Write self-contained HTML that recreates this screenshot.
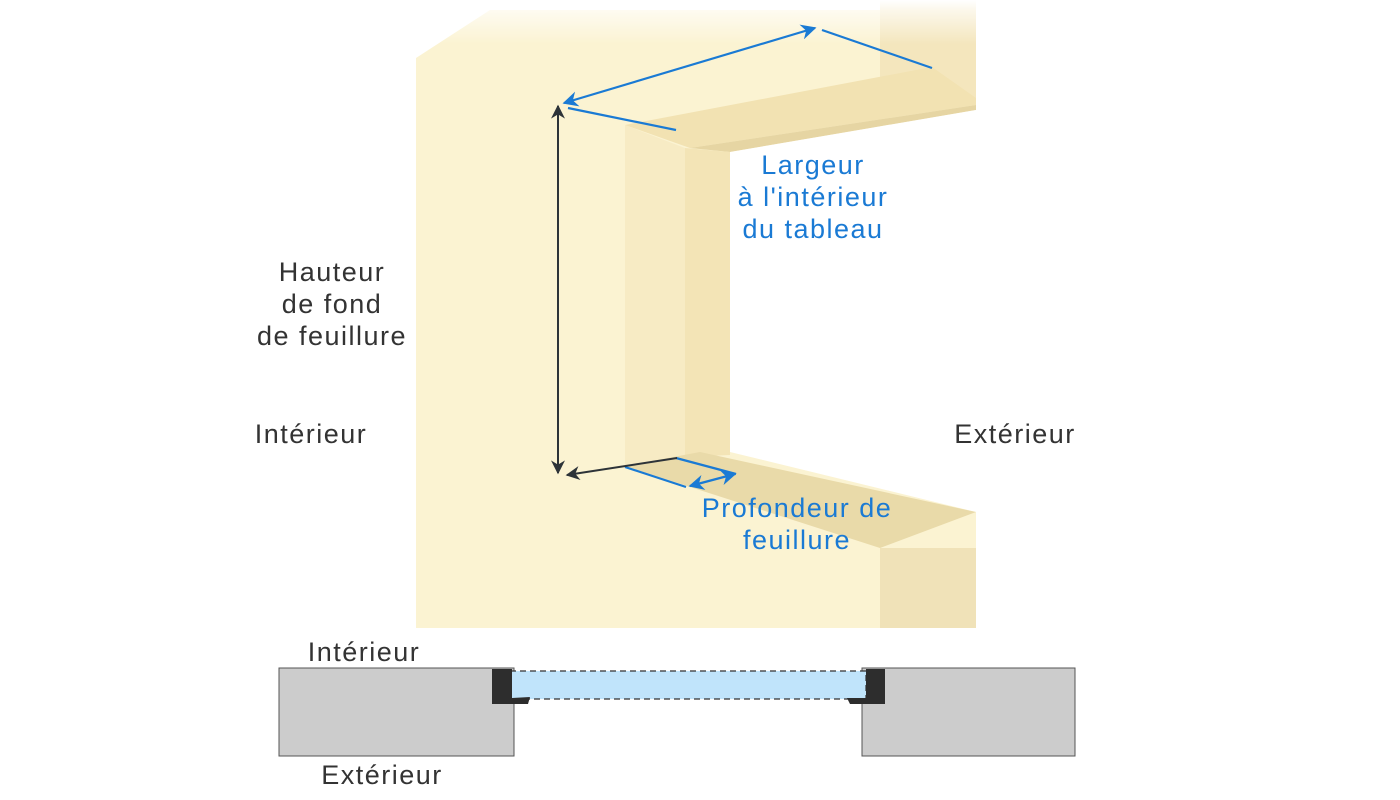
<!DOCTYPE html>
<html><head><meta charset="utf-8"><style>
body{margin:0;background:#fff;width:1400px;height:800px;overflow:hidden}
svg{display:block}
text{font-family:"Liberation Sans",sans-serif;font-size:27px;letter-spacing:1.5px}
</style></head><body>
<svg width="1400" height="800" viewBox="0 0 1400 800">
<defs>
<linearGradient id="fade" x1="0" y1="0" x2="0" y2="1">
<stop offset="0" stop-color="#fff" stop-opacity="1"/>
<stop offset="0.05" stop-color="#fff" stop-opacity="0.7"/>
<stop offset="0.22" stop-color="#fff" stop-opacity="0"/>
</linearGradient>
<marker id="ab" viewBox="0 0 10 10" refX="9" refY="5" markerWidth="7" markerHeight="7" orient="auto-start-reverse"><path d="M0,0 L10,5 L0,10 L3,5z" fill="#1a7ad4"/></marker>
<marker id="ak" viewBox="0 0 10 10" refX="9" refY="5" markerWidth="7" markerHeight="7" orient="auto-start-reverse"><path d="M0,0 L10,5 L0,10 L3,5z" fill="#2d3338"/></marker>
</defs>
<polygon points="416,58 490,10 976,10 976,628 416,628" fill="#fbf3d2"/>
<rect x="880" y="0" width="96" height="100" fill="#f4e6bd"/>
<rect x="880" y="548" width="96" height="80" fill="#f0e2b8"/>
<polygon points="625,125 932,67 976,98 976,105 690,148" fill="#f2e2b2"/>
<polygon points="690,148 976,105 976,110 730,152" fill="#e6d5a3"/>
<polygon points="625,125 685,148 685,457 625,466" fill="#f7ebc4"/>
<polygon points="685,148 730,152 730,455 685,457" fill="#f3e4b6"/>
<polygon points="730,152 976,110 976,512 730,452" fill="#fff"/>
<polygon points="625,466 700,452 976,512 880,548" fill="#e9daa9"/>
<rect x="400" y="0" width="600" height="200" fill="url(#fade)"/>
<g stroke="#1a7ad4" stroke-width="2.2" fill="none">
<line x1="564" y1="103" x2="815" y2="28" marker-start="url(#ab)" marker-end="url(#ab)"/>
<line x1="568" y1="108" x2="676" y2="130"/>
<line x1="822" y1="30" x2="932" y2="68"/>
<line x1="625" y1="467" x2="686" y2="487"/>
<line x1="676" y1="458" x2="736" y2="474"/>
<line x1="690" y1="486" x2="735" y2="474" marker-start="url(#ab)" marker-end="url(#ab)"/>
</g>
<g stroke="#2d3338" stroke-width="2" fill="none">
<line x1="558" y1="106" x2="558" y2="473" marker-start="url(#ak)" marker-end="url(#ak)"/>
<line x1="567" y1="475" x2="677" y2="458" marker-start="url(#ak)"/>
</g>
<g fill="#333" text-anchor="middle">
<text x="332" y="281">Hauteur</text>
<text x="332" y="313">de fond</text>
<text x="332" y="345">de feuillure</text>
<text x="311" y="443">Intérieur</text>
<text x="1015" y="443">Extérieur</text>
<text x="364" y="661">Intérieur</text>
<text x="382" y="784">Extérieur</text>
</g>
<g fill="#1a7ad4" text-anchor="middle">
<text x="813" y="174">Largeur</text>
<text x="813" y="206">à l'intérieur</text>
<text x="813" y="238">du tableau</text>
<text x="797" y="517">Profondeur de</text>
<text x="797" y="549">feuillure</text>
</g>
<rect x="279" y="668" width="235" height="88" fill="#cccccc" stroke="#555" stroke-width="1"/>
<rect x="862" y="668" width="213" height="88" fill="#cccccc" stroke="#555" stroke-width="1"/>
<rect x="510" y="671" width="356" height="28" fill="#c0e4fb" stroke="#333" stroke-width="1.2" stroke-dasharray="6,4"/>
<path d="M492,669 H512 V698 L530,697 L528,704 H492 Z" fill="#2d2d2d"/>
<path d="M866,669 H885 V704 H850 L847,698 H866 Z" fill="#2d2d2d"/>
</svg>
</body></html>
